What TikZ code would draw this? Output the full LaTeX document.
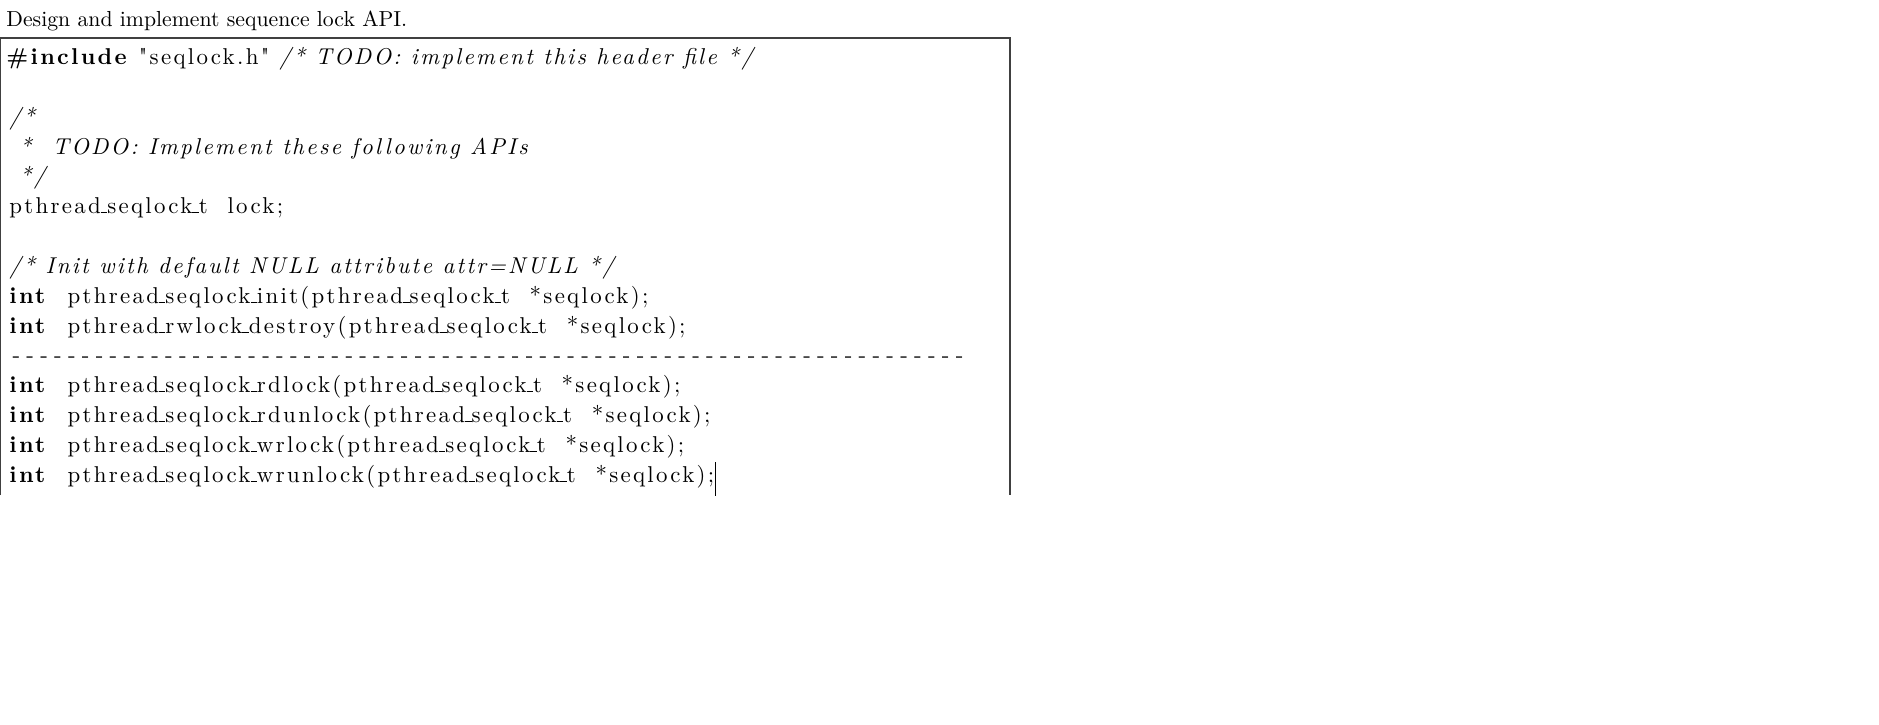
\documentclass[tikz,border=0pt]{standalone}
\usepackage{fontspec}
\newfontfamily\codefont{Latin Modern Roman}[LetterSpace=10]
\newcommand{\us}{\rule{0.28em}{0.4pt}}
\begin{document}
\begin{tikzpicture}[x=0.4367pt,y=-0.4367pt,
  ln/.style={anchor=base west,inner sep=0pt,font=\codefont}]
\useasboundingbox (0,0) rectangle (1879,725);
\node[anchor=base west,inner sep=0pt,font=\fontsize{9.5}{11}\selectfont] (title) at (6,26) {Design and implement sequence lock API.};
\draw[line width=0.45pt,black!75] (0.5,495) -- (0.5,38) -- (1010,38) -- (1010,495);
\node[ln] (l1) at (6,64) {\textbf{\#include} "seqlock.h" \textit{/* TODO: implement this header file */}};
\node[ln] (l2) at (9,124) {\textit{/*}};
\node[ln] (l3) at (9,154) {\textit{\ *\ \ TODO: Implement these following APIs}};
\node[ln] (l4) at (9,183) {\textit{\ */}};
\node[ln] (l5) at (9,213) {pthread\us seqlock\us t\ \ lock;};
\node[ln] (l6) at (9,273) {\textit{/* Init with default NULL attribute attr=NULL */}};
\node[ln] (l7) at (9,303) {\textbf{int}\ \ pthread\us seqlock\us init(pthread\us seqlock\us t\ \ *seqlock);};
\node[ln] (l8) at (9,333) {\textbf{int}\ \ pthread\us rwlock\us destroy(pthread\us seqlock\us t\ \ *seqlock);};
\node[anchor=base west,inner sep=0pt] (dash) at (9,362) {\hbox to 418pt{\xleaders\hbox to 6.03pt{\hss-\hss}\hfill}};
\node[ln] (l9) at (9,392) {\textbf{int}\ \ pthread\us seqlock\us rdlock(pthread\us seqlock\us t\ \ *seqlock);};
\node[ln] (l10) at (9,422) {\textbf{int}\ \ pthread\us seqlock\us rdunlock(pthread\us seqlock\us t\ \ *seqlock);};
\node[ln] (l11) at (9,452) {\textbf{int}\ \ pthread\us seqlock\us wrlock(pthread\us seqlock\us t\ \ *seqlock);};
\node[ln] (l12) at (9,482) {\textbf{int}\ \ pthread\us seqlock\us wrunlock(pthread\us seqlock\us t\ \ *seqlock);};
\draw[line width=0.5pt] (l12.north east) ++(1,-2) -- ++(0,34);
\end{tikzpicture}
\end{document}
